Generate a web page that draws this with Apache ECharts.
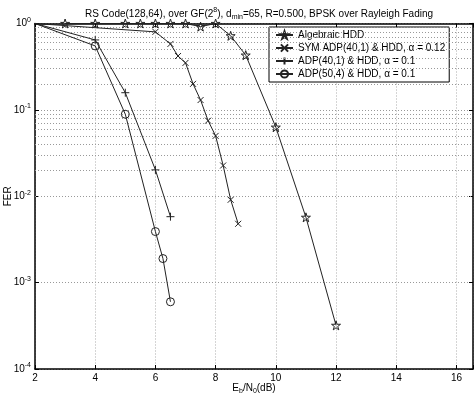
<!DOCTYPE html>
<html>
<head>
<meta charset="utf-8">
<script src="https://cdn.jsdelivr.net/npm/echarts@6/dist/echarts.min.js"></script>
<style>
  html, body { margin: 0; padding: 0; background: #fff; }
  #chart { width: 474px; height: 397px; }
</style>
</head>
<body>
<div id="chart"></div>
<script>
// Eb/N0 (dB) and FER for each curve
const algEbN0 = [3, 4, 5, 5.5, 6, 6.5, 7, 7.5, 8, 8.5, 9, 10, 11, 12];
const algFer = [1, 1, 1, 1, 1, 1, 1, 0.92, 1, 0.72, 0.43, 0.063, 0.0057, 0.00032];

const symEbN0 = [2, 6, 6.5, 6.75, 7, 7.25, 7.5, 7.75, 8, 8.25, 8.5, 8.75];
const symFer = [1, 0.80, 0.58, 0.42, 0.35, 0.20, 0.13, 0.075, 0.050, 0.0227, 0.0091, 0.0048];

const adp40EbN0 = [2, 4, 5, 6, 6.5];
const adp40Fer = [1, 0.645, 0.158, 0.0202, 0.0058];

const adp50EbN0 = [2, 4, 5, 6, 6.25, 6.5];
const adp50Fer = [1, 0.55, 0.089, 0.0039, 0.0019, 0.0006];

const seriesNames = [
  'Algebraic HDD',
  'SYM ADP(40,1) & HDD, α = 0.12',
  'ADP(40,1) & HDD, α = 0.1',
  'ADP(50,4) & HDD, α = 0.1'
];

const xTicks = [2, 4, 6, 8, 10, 12, 14, 16];

const ink = '#222';
const starPath = 'path://M5,0L6.2,3.6L10,3.6L6.9,5.9L8.1,9.5L5,7.3L1.9,9.5L3.1,5.9L0,3.6L3.8,3.6Z';
const xPath = 'path://M0,0L10,10M10,0L0,10';
const plusPath = 'path://M5,0L5,10M0,5L10,5';

function pairs(xs, ys) {
  return xs.map((x, i) => {
    const p = {value: [x, ys[i]]};
    // 第一个点落在角上，不画标记
    if (x === 2) p.symbol = 'none';
    return p;
  });
}

// minor grid lines of the log axis (2..9 x 10^k)
const minorLines = [];
for (let k = -4; k < 0; k++) {
  for (let m = 2; m <= 9; m++) {
    minorLines.push({yAxis: m * Math.pow(10, k)});
  }
}

function lineSeries(name, xs, ys, symbol, size) {
  return {
    name: name,
    type: 'line',
    data: pairs(xs, ys),
    symbol: symbol,
    symbolSize: size,
    showAllSymbol: true,
    z: 5,
    lineStyle: {color: ink, width: 1},
    itemStyle: {color: 'rgba(0,0,0,0)', borderColor: ink, borderWidth: 1},
    emphasis: {disabled: true},
    animation: false
  };
}

const chart = echarts.init(document.getElementById('chart'));

const supLabel = {
  b: {fontSize: 10, fontFamily: 'Liberation Sans', color: '#000'},
  e: {fontSize: 7, fontFamily: 'Liberation Sans', color: '#000', padding: [0, 0, 7, 0]}
};

chart.setOption({
  backgroundColor: '#fff',
  animation: false,
  title: {
    text: 'RS Code(128,64), over GF(2{sup|8}), d{sub|min}=65, R=0.500, BPSK over Rayleigh Fading',
    left: 254,
    top: 2,
    textAlign: 'center',
    textStyle: {
      fontSize: 10, fontWeight: 'normal', fontFamily: 'Liberation Sans', color: '#000',
      rich: {
        sup: {fontSize: 7, fontFamily: 'Liberation Sans', padding: [0, 0, 7, 0]},
        sub: {fontSize: 7, fontFamily: 'Liberation Sans', padding: [7, 0, 0, 0]}
      }
    }
  },
  grid: {left: 35, right: 1, top: 23.5, bottom: 28, containLabel: false, outerBoundsMode: 'none'},
  legend: {
    orient: 'vertical',
    left: 269,
    top: 27,
    data: seriesNames,
    backgroundColor: '#fff',
    borderColor: '#000',
    borderWidth: 1,
    borderRadius: 0,
    padding: [3, 4, 3, 6],
    itemGap: 3,
    itemWidth: 17,
    itemHeight: 9,
    textStyle: {fontSize: 10, fontFamily: 'Liberation Sans', color: '#000'}
  },
  xAxis: [
    {
      type: 'value',
      min: 2,
      max: 16.55,
      interval: 2,
      name: '{t|E}{s|b}{t|/N}{s|0}{t|(dB)}',
      nameLocation: 'middle',
      nameGap: 12,
      nameMoveOverlap: false,
      nameTextStyle: {
        rich: {
          t: {fontSize: 10, fontFamily: 'Liberation Sans', color: '#000'},
          s: {fontSize: 7, fontFamily: 'Liberation Sans', color: '#000', padding: [7, 0, 0, 0]}
        }
      },
      axisLine: {show: true, onZero: false, lineStyle: {color: '#000', width: 1.5}},
      axisTick: {show: true, inside: true, length: 4, lineStyle: {color: '#000'}},
      axisLabel: {fontSize: 10, margin: 4, fontFamily: 'Liberation Sans', color: '#000',
        formatter: v => (xTicks.indexOf(v) >= 0 ? String(v) : '')},
      splitLine: {show: true, lineStyle: {color: '#aaa', type: [1, 2], width: 1}}
    },
    {
      type: 'value',
      position: 'top',
      min: 2,
      max: 16.55,
      interval: 2,
      axisLine: {show: true, onZero: false, lineStyle: {color: '#000', width: 1.5}},
      axisTick: {show: true, inside: true, length: 4, lineStyle: {color: '#000'}},
      axisLabel: {show: false},
      splitLine: {show: false}
    }
  ],
  yAxis: [
    {
      type: 'log',
      logBase: 10,
      min: 1e-4,
      max: 1,
      name: 'FER',
      nameLocation: 'middle',
      nameGap: 22,
      nameMoveOverlap: false,
      nameTextStyle: {fontSize: 10, fontFamily: 'Liberation Sans', color: '#000'},
      axisLine: {show: true, onZero: false, lineStyle: {color: '#000', width: 1.5}},
      axisTick: {show: true, inside: true, length: 4, lineStyle: {color: '#000'}},
      axisLabel: {
        margin: 4,
        formatter: v => {
          const e = Math.round(Math.log10(v));
          return '{b|10}{e|' + (e === 0 ? '0' : '-' + (-e)) + '}';
        },
        rich: supLabel
      },
      splitLine: {show: true, lineStyle: {color: '#999', type: [1, 2], width: 1}}
    },
    {
      type: 'log',
      logBase: 10,
      min: 1e-4,
      max: 1,
      position: 'right',
      axisLine: {show: true, onZero: false, lineStyle: {color: '#000', width: 1.5}},
      axisTick: {show: true, inside: true, length: 4, lineStyle: {color: '#000'}},
      axisLabel: {show: false},
      splitLine: {show: false}
    }
  ],
  series: [
    {
      name: 'grid',
      type: 'line',
      data: [],
      silent: true,
      markLine: {
        silent: true,
        symbol: 'none',
        label: {show: false},
        animation: false,
        lineStyle: {color: '#999', type: [1, 2], width: 1},
        data: minorLines
      }
    },
    lineSeries(seriesNames[0], algEbN0, algFer, starPath, 9),
    lineSeries(seriesNames[1], symEbN0, symFer, xPath, 6),
    lineSeries(seriesNames[2], adp40EbN0, adp40Fer, plusPath, 8),
    lineSeries(seriesNames[3], adp50EbN0, adp50Fer, 'circle', 8)
  ]
});
</script>
</body>
</html>
